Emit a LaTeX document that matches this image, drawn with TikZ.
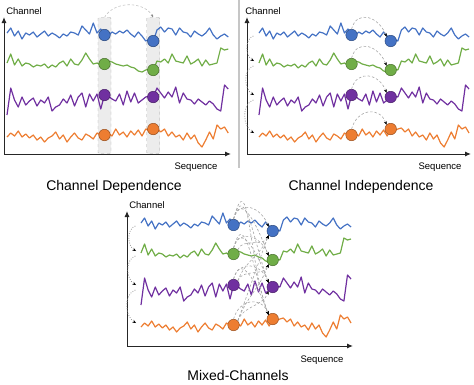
\documentclass[tikz,border=0pt]{standalone}
\usepackage{fontspec}
\setmainfont{Liberation Sans}
\usetikzlibrary{arrows.meta}

\definecolor{chblue}{RGB}{68,114,196}
\definecolor{chgreen}{RGB}{112,173,71}
\definecolor{chpurple}{RGB}{112,48,160}
\definecolor{chorange}{RGB}{237,125,49}

% offsets from the baseline, points 1..59
\newcommand\bluedata{-5,3,-2,6,0,2,-1,4,1,-2,3,0,2,5,1,3,-1,0,2,-7,-3,1,-10,0,-4,2,3,-1,1,-2,0,-3,1,4,-1,3,8,6,8,-3,-6,-1,-5,-4,2,-5,-1,0,4,-2,1,3,0,-5,2,6,3,1,4}
\newcommand\greendata{-9,2,-4,3,0,1,4,2,3,1,5,2,4,0,-2,3,-4,1,2,-3,-10,-4,1,0,2,1,-2,-1,1,2,3,2,4,5,8,9,7,6,7,-2,-1,-4,0,-9,-2,-1,0,-7,1,-1,-4,3,-3,2,1,0,-15,-13,-14}
\newcommand\purpledata{-9,3,10,0,8,4,1,9,3,6,0,14,10,8,2,6,-2,9,0,-4,10,-3,4,-3,12,-2,-1,2,4,-3,8,-6,5,-4,6,3,0,-1,0,-9,-4,1,-5,0,-10,6,-4,2,3,7,2,5,8,4,7,12,14,-12,-8}
\newcommand\orangedata{-2,1,-4,2,-1,3,0,5,2,7,3,1,-3,4,0,7,2,-2,3,5,-1,1,4,-2,0,0,-2,1,-6,0,-3,2,-4,0,-5,1,-6,-4,-6,-7,-3,-6,1,-3,2,0,5,-2,4,0,8,12,5,-3,4,-10,-6,-8,-2}

% colour, baseline, first point, data
\newcommand\drawseries[4]{%
  \draw[series,#1] (0,#2+#3) \foreach \v [count=\i] in #4 { -- (\i,#2+\v) };}

\newcommand\allseries{%
  \drawseries{chblue}{33}{0}{\bluedata}
  \drawseries{chgreen}{63}{0}{\greendata}
  \drawseries{chpurple}{97}{18}{\purpledata}
  \drawseries{chorange}{135}{2}{\orangedata}}

\begin{document}
\begin{tikzpicture}[x=1pt,y=-1pt,
    series/.style={line width=1.2pt,line join=round},
    chdot/.style={circle,draw=#1!65!black,fill=#1,minimum size=11.5pt,inner sep=0pt,line width=0.5pt},
    axis/.style={line width=1pt,black!85,-{Latex[length=6pt,width=5pt]}},
    lbl/.style={font=\fontsize{9.5}{11}\selectfont},
    title/.style={font=\fontsize{14}{16}\selectfont},
    column/.style={draw=gray!70,dashed,fill=gray!15,rounded corners=1pt,minimum width=13pt,minimum height=136pt,inner sep=0pt},
    link/.style={gray!70,dash pattern=on 2.5pt off 2pt,line width=0.6pt,-{Stealth[length=3.5pt,width=3pt,black]}},
    dotlink/.style={gray!85,dash pattern=on 0.8pt off 1.6pt,line width=0.8pt,-{Stealth[length=3.5pt,width=3pt,black]}}]

\useasboundingbox (0,0) rectangle (474,384);

\draw[gray!45,line width=1.5pt] (239,0) -- (239,168); % separatore

%% channel dependence
\coordinate (o1) at (4,154);
\coordinate (y1) at (4,17);
\coordinate (x1) at (231,154);
\draw[axis] (o1) -- (y1);
\draw[axis] (o1) -- (x1);
\node[lbl] (ch1) at (24,11) {Channel};
\node[lbl] (sq1) at (196,167) {Sequence};
\node[title] (t1) at (114,187) {Channel Dependence};

\begin{scope}[shift={(7,0)},x=3.75pt]
  \node[column] (col1) at (26,85.5) {};
  \node[column] (col2) at (39,85.5) {};
  \allseries
  \foreach \c/\ya/\yb [count=\k] in {chblue/35/41,chgreen/64/70,chpurple/95/97,chorange/135/129}{
    \node[chdot=\c] (d1-\k) at (26,\ya) {};
    \node[chdot=\c] (d2-\k) at (39,\yb) {};
  }
\end{scope}
\draw[link,gray!45,-{Stealth[length=3pt,width=2.5pt,gray]}] (col1.north) to[out=60,in=120] (col2.north);

%% channel independence
\coordinate (o2) at (247,154);
\coordinate (y2) at (247,17);
\coordinate (x2) at (471,154);
\draw[axis] (o2) -- (y2);
\draw[axis] (o2) -- (x2);
\node[lbl] (ch2) at (263,11) {Channel};
\node[lbl] (sq2) at (440,167) {Sequence};
\node[title] (t2) at (361,187) {Channel Independence};

\begin{scope}[shift={(259,0)},x=3.56pt]
  \allseries
  \foreach \c/\ya/\yb/\b [count=\k] in {chblue/35/41/33,chgreen/64/70/63,chpurple/95/97/97,chorange/135/129/135}{
    \node[chdot=\c] (i1-\k) at (26,\ya) {};
    \node[chdot=\c] (i2-\k) at (37,\yb) {};
    \coordinate (ia-\k) at (-1.6,\b+3);
    \coordinate (ib-\k) at (-1.4,\b-2);
  }
\end{scope}
\foreach \k in {1,...,4}
  \draw[link] (i1-\k.north) to[out=75,in=110,looseness=1.5] (i2-\k.north west);
\foreach \k/\n in {1/2,2/3,3/4}
  \draw[dotlink] (ia-\k) to[out=200,in=150] (ib-\n);

%% mixed channels
\coordinate (o3) at (127,346);
\coordinate (y3) at (127,211);
\coordinate (x3) at (353,346);
\draw[axis] (o3) -- (y3);
\draw[axis] (o3) -- (x3);
\node[lbl] (ch3) at (147,205) {Channel};
\node[lbl] (sq3) at (322,360) {Sequence};
\node[title] (t3) at (238,375) {Mixed-Channels};

\begin{scope}[shift={(141,190)},x=3.56pt]
  \allseries
  \foreach \c/\ya/\yb/\b [count=\k] in {chblue/35/41/33,chgreen/64/70/63,chpurple/95/97/97,chorange/135/129/135}{
    \node[chdot=\c] (m1-\k) at (26,\ya) {};
    \node[chdot=\c] (m2-\k) at (37,\yb) {};
    \coordinate (ma-\k) at (-1.6,\b+3);
    \coordinate (mb-\k) at (-1.4,\b-2);
  }
\end{scope}
\foreach \i in {1,...,4}
  \foreach \j in {1,...,4}{
    \ifnum\j<\i
      \draw[link] (m1-\i.north east) to[out=70,in=-110] (m2-\j.south west);
    \else
      \draw[link] (m1-\i.north) to[out=75,in=110,looseness=1.5] (m2-\j.north west);
    \fi
  }
\foreach \k/\n in {1/2,2/3,3/4}
  \draw[dotlink] (ma-\k) to[out=200,in=150] (mb-\n);

\end{tikzpicture}
\end{document}
